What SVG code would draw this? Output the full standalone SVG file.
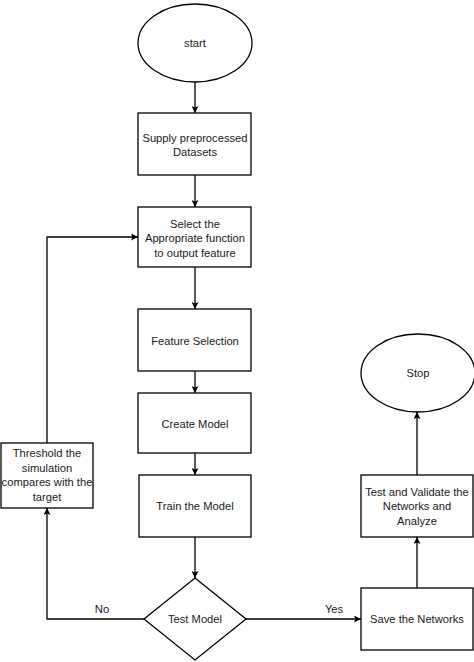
<svg xmlns="http://www.w3.org/2000/svg" width="474" height="662" viewBox="0 0 474 662">
<defs>
<marker id="arr" viewBox="0 0 10 10" refX="10" refY="5" markerWidth="7" markerHeight="7" markerUnits="userSpaceOnUse" orient="auto">
<path d="M0,0 L10,5 L0,10 L2,5 Z" fill="#000"/>
</marker>
<style>
.n{fill:#fff;stroke:#000;stroke-width:1.3}
.t{font-family:"Liberation Sans",Arial,sans-serif;font-size:11.2px;fill:#1a1a1a;text-anchor:middle}
.c{fill:none;stroke:#000;stroke-width:1.3;marker-end:url(#arr)}
</style>
</defs>
<rect width="474" height="662" fill="#fff"/>
<g id="connectors">
<path class="c" d="M195,82 V113"/>
<path class="c" d="M195,175 V207"/>
<path class="c" d="M195,267 V309"/>
<path class="c" d="M195,371 V393"/>
<path class="c" d="M195,453 V475"/>
<path class="c" d="M195,537 V578"/>
<path class="c" d="M144,619 H47 V508"/>
<path class="c" d="M47,443 V237 H138"/>
<path class="c" d="M246,619 H361"/>
<path class="c" d="M417,588 V537"/>
<path class="c" d="M417,475 V412"/>
<text class="t" x="102" y="613">No</text>
<text class="t" x="334" y="613">Yes</text>
</g>
<g id="start">
<ellipse class="n" cx="195" cy="43" rx="57" ry="39"/>
<text class="t" x="195" y="47">start</text>
</g>
<g id="supply">
<rect class="n" x="138" y="113" width="113" height="62"/>
<text class="t" x="195" y="142">Supply preprocessed</text>
<text class="t" x="195" y="156">Datasets</text>
</g>
<g id="select">
<rect class="n" x="138" y="207" width="113" height="60"/>
<text class="t" x="195" y="228">Select the</text>
<text class="t" x="195" y="242">Appropriate function</text>
<text class="t" x="195" y="257">to output feature</text>
</g>
<g id="feature">
<rect class="n" x="138" y="309" width="113" height="62"/>
<text class="t" x="195" y="345">Feature Selection</text>
</g>
<g id="create">
<rect class="n" x="138" y="393" width="113" height="60"/>
<text class="t" x="195" y="428">Create Model</text>
</g>
<g id="train">
<rect class="n" x="139" y="475" width="112" height="62"/>
<text class="t" x="195" y="510">Train the Model</text>
</g>
<g id="test">
<path class="n" d="M195,578 L246,619 L195,660 L144,619 Z"/>
<text class="t" x="195" y="623">Test Model</text>
</g>
<g id="threshold">
<rect class="n" x="1" y="443" width="92" height="65"/>
<text class="t" x="47" y="457">Threshold the</text>
<text class="t" x="47" y="472">simulation</text>
<text class="t" x="47" y="486">compares with the</text>
<text class="t" x="47" y="501">target</text>
</g>
<g id="save">
<rect class="n" x="361" y="588" width="112" height="62"/>
<text class="t" x="417" y="623">Save the Networks</text>
</g>
<g id="validate">
<rect class="n" x="361" y="475" width="112" height="62"/>
<text class="t" x="417" y="496">Test and Validate the</text>
<text class="t" x="417" y="510">Networks and</text>
<text class="t" x="417" y="525">Analyze</text>
</g>
<g id="stop">
<ellipse class="n" cx="418" cy="373" rx="57" ry="39"/>
<text class="t" x="418" y="377">Stop</text>
</g>
</svg>
